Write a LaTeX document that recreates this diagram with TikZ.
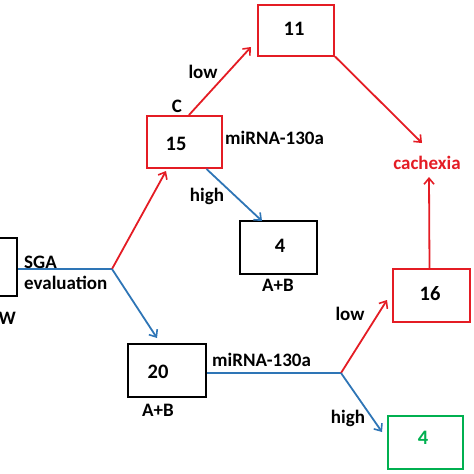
\documentclass[tikz,border=0pt]{standalone}
\usepackage{fontspec}
\setmainfont{Carlito}
\usetikzlibrary{arrows.meta,calc}
\definecolor{cred}{RGB}{228,28,36}
\definecolor{cblue}{RGB}{46,117,182}
\definecolor{cgreen}{RGB}{0,176,80}
\tikzset{
  box/.style={draw, line width=2pt, rectangle, inner sep=0pt},
  lbl/.style={inner sep=0pt, font=\fontsize{19}{21}\selectfont\bfseries},
  num/.style={inner sep=0pt, font=\fontsize{20.5}{22}\selectfont\bfseries},
  arr/.style={-{Straight Barb[length=6pt,width=10pt,line width=1.6pt]}},
  conn/.style={line width=1.8pt},
}
\begin{document}
\begin{tikzpicture}[x=1pt,y=-1pt]
\useasboundingbox (0,0) rectangle (474,474);
\clip (0,0) rectangle (474,474);
% boxes
\node[box, minimum width=57pt, minimum height=58pt] (b0) at (-11.5,267) {};
\node[box, draw=cred, minimum width=75pt, minimum height=52pt] (b15) at (184.5,142) {};
\node[box, draw=cred, minimum width=76pt, minimum height=51pt] (b11) at (296,30) {};
\node[box, minimum width=77pt, minimum height=53pt] (b4) at (278.5,247.5) {};
\node[box, minimum width=78pt, minimum height=53pt] (b20) at (167,370.5) {};
\node[box, draw=cred, minimum width=77pt, minimum height=53pt] (b16) at (431.5,295.5) {};
\node[box, draw=cgreen, minimum width=75pt, minimum height=53pt] (b4g) at (425.5,442.5) {};
% numbers inside boxes
\node[num] (t15) at (176,144) {15};
\node[num] (t11) at (294,29) {11};
\node[num] (t4) at (280,246) {4};
\node[num] (t20) at (158,372) {20};
\node[num] (t16) at (430,294) {16};
\node[num, text=cgreen] (t4g) at (423,438) {4};
% labels
\node[lbl, anchor=east] (lw) at (16,318) {W};
\node[lbl, anchor=west] (lsga) at (24,262) {SGA};
\node[lbl, anchor=west] (leval) at (24,283) {evaluation};
\node[lbl] (lc) at (177,106) {C};
\node[lbl, anchor=west] (lmir1) at (225,138) {miRNA-130a};
\node[lbl] (llow1) at (203,72) {low};
\node[lbl] (lhigh1) at (207,196) {high};
\node[lbl] (lab1) at (278,285) {A+B};
\node[lbl] (lab2) at (158,410) {A+B};
\node[lbl, anchor=west] (lmir2) at (212,360) {miRNA-130a};
\node[lbl] (llow2) at (350,314) {low};
\node[lbl] (lhigh2) at (348,418) {high};
\node[lbl, text=cred] (lcach) at (427,163) {cachexia};
% junctions and arrow ends
\coordinate (J1) at (112,269);
\coordinate (J2) at (341,373);
\coordinate (e15) at (166,171);
\coordinate (e20) at (157,338);
\coordinate (e11) at (251,47);
\coordinate (ecach1) at (422,143);
\coordinate (ecach2) at (429,177);
\coordinate (e4) at (262,221);
\coordinate (e16) at (387,300);
\coordinate (e4g) at (382,432);
% connectors
\draw[conn, cblue] (b0.east |- J1) -- (J1);
\draw[conn, cred, arr] (J1) -- (e15);
\draw[conn, cblue, arr] (J1) -- (e20);
\draw[conn, cred, arr] ([xshift=4.5pt]b15.north) -- (e11);
\draw[conn, cblue, arr] ([xshift=22pt]b15.south) -- (e4);
\draw[conn, cred, arr] (b11.south east) -- (ecach1);
\draw[conn, cred, arr] ([xshift=-2pt]b16.north) -- (ecach2);
\draw[conn, cblue] (b20.east |- J2) -- (J2);
\draw[conn, cred, arr] (J2) -- (e16);
\draw[conn, cblue, arr] (J2) -- (e4g);
\end{tikzpicture}
\end{document}
